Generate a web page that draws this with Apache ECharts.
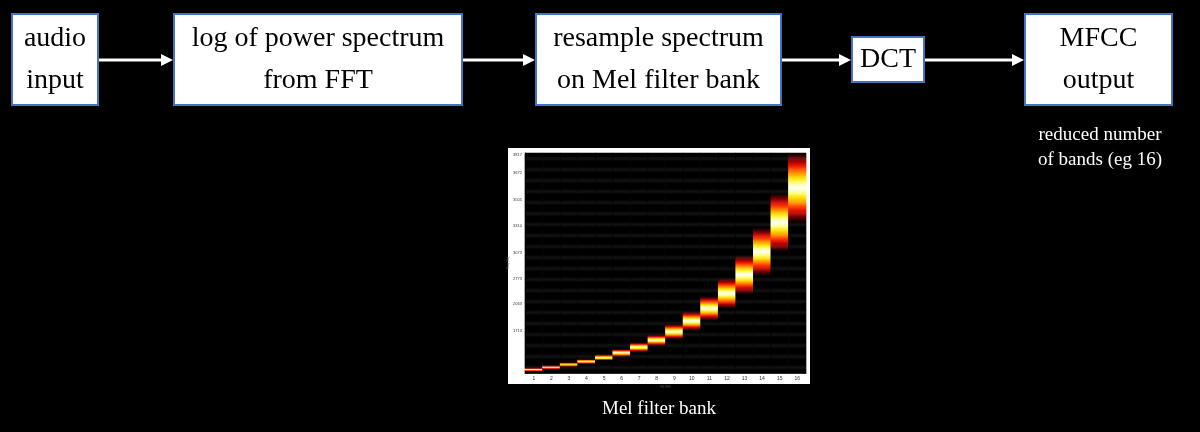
<!DOCTYPE html>
<html><head><meta charset="utf-8">
<script src="https://cdn.jsdelivr.net/npm/echarts@6/dist/echarts.min.js"></script>
<style>html,body{margin:0;background:#000}#c{width:1200px;height:432px}</style>
</head><body><div id="c"></div>
<script>
// Mel filter bank: 16 filters, centre row and half-width (rows of 200)
const filters = ['1','2','3','4','5','6','7','8','9','10','11','12','13','14','15','16'];
const centres = [3.3,5.4,7.9,10.6,14.2,18.5,23.6,30,37.8,47.5,59,72.6,89.5,110.4,137,168.5];
const halfWidths = [1.5,1.5,1.8,2.1,2.7,3.3,4.2,4.8,6.7,8.5,10.9,13.6,17.6,21.8,26.6,31.8];
const yTickLabels = ['1713','2063','2773','3073','3310','3505','3672','3817'];
const boxes = [
  {text:'audio\ninput', x:12, y:14, w:86, h:91},
  {text:'log of power spectrum\nfrom FFT', x:174, y:14, w:288, h:91},
  {text:'resample spectrum\non Mel filter bank', x:536, y:14, w:245, h:91},
  {text:'DCT', x:852, y:37, w:72, h:45},
  {text:'MFCC\noutput', x:1025, y:14, w:147, h:91}
];
const ROWS = 200;
const rows = []; for (let r=0;r<ROWS;r++) rows.push(String(r));
const data = [];
for (let i=0;i<filters.length;i++){
  for (let r=0;r<ROWS;r++){
    const d = Math.abs(r+0.5-centres[i])/halfWidths[i];
    data.push([i, r, Math.max(0, 1-d)]);
  }
}
const ytickRows = [38,62,85,109,133,157,181,198].map(String);
const graphic = [{type:'rect',shape:{x:508,y:148,width:302,height:236},style:{fill:'#fff'},z:-10}];
const font = '28px "Liberation Serif", serif';
boxes.forEach(b=>{
  graphic.push({type:'rect',shape:{x:b.x,y:b.y,width:b.w,height:b.h},style:{fill:'#fff',stroke:'#4472c4',lineWidth:2}});
  graphic.push({type:'text',x:b.x+b.w/2,y:b.y+b.h/2,style:{text:b.text,font:font,fill:'#000',align:'center',verticalAlign:'middle',lineHeight:42}});
});
for (let i=0;i<boxes.length-1;i++){
  const x1 = boxes[i].x+boxes[i].w+1, x2 = boxes[i+1].x-1, y=60;
  graphic.push({type:'line',shape:{x1:x1,y1:y,x2:x2-10,y2:y},style:{stroke:'#fff',lineWidth:3}});
  graphic.push({type:'polygon',shape:{points:[[x2,y],[x2-12,y-6],[x2-12,y+6]]},style:{fill:'#fff'}});
}
graphic.push({type:'text',x:1100,y:148,style:{text:'reduced number\nof bands (eg 16)',font:'19px "Liberation Serif", serif',fill:'#fff',align:'center',verticalAlign:'middle',lineHeight:25}});
graphic.push({type:'text',x:659,y:409,style:{text:'Mel filter bank',font:'19px "Liberation Serif", serif',fill:'#fff',align:'center',verticalAlign:'middle'}});
const chart = echarts.init(document.getElementById('c'));
chart.setOption({
  backgroundColor:'#000',
  animation:false,
  graphic:graphic,
  grid:{left:525,top:153,width:281,height:220},
  xAxis:{type:'category',data:filters,axisLabel:{fontSize:5,color:'#333',margin:3},axisTick:{show:false},axisLine:{lineStyle:{color:'#333'}},
    name:'FILTER', nameLocation:'middle', nameGap:9, nameTextStyle:{fontSize:3,color:'#555'}},
  yAxis:{type:'category',data:rows,axisTick:{show:false},axisLine:{lineStyle:{color:'#333'}},
    axisLabel:{fontSize:4,color:'#333',margin:3,interval:(i,v)=>ytickRows.includes(v),formatter:v=>yTickLabels[ytickRows.indexOf(v)]||''},
    name:'Freq (Hz)', nameLocation:'middle', nameGap:13, nameRotate:90, nameTextStyle:{fontSize:3,color:'#555'}},
  visualMap:{show:false,min:0,max:1,inRange:{color:['#000000','#5a0000','#c00000','#ff3000','#ff9000','#ffe000','#ffff80','#ffffff']}},
  series:[{type:'heatmap',data:data,itemStyle:{borderWidth:0},progressive:0}]
});
</script></body></html>
